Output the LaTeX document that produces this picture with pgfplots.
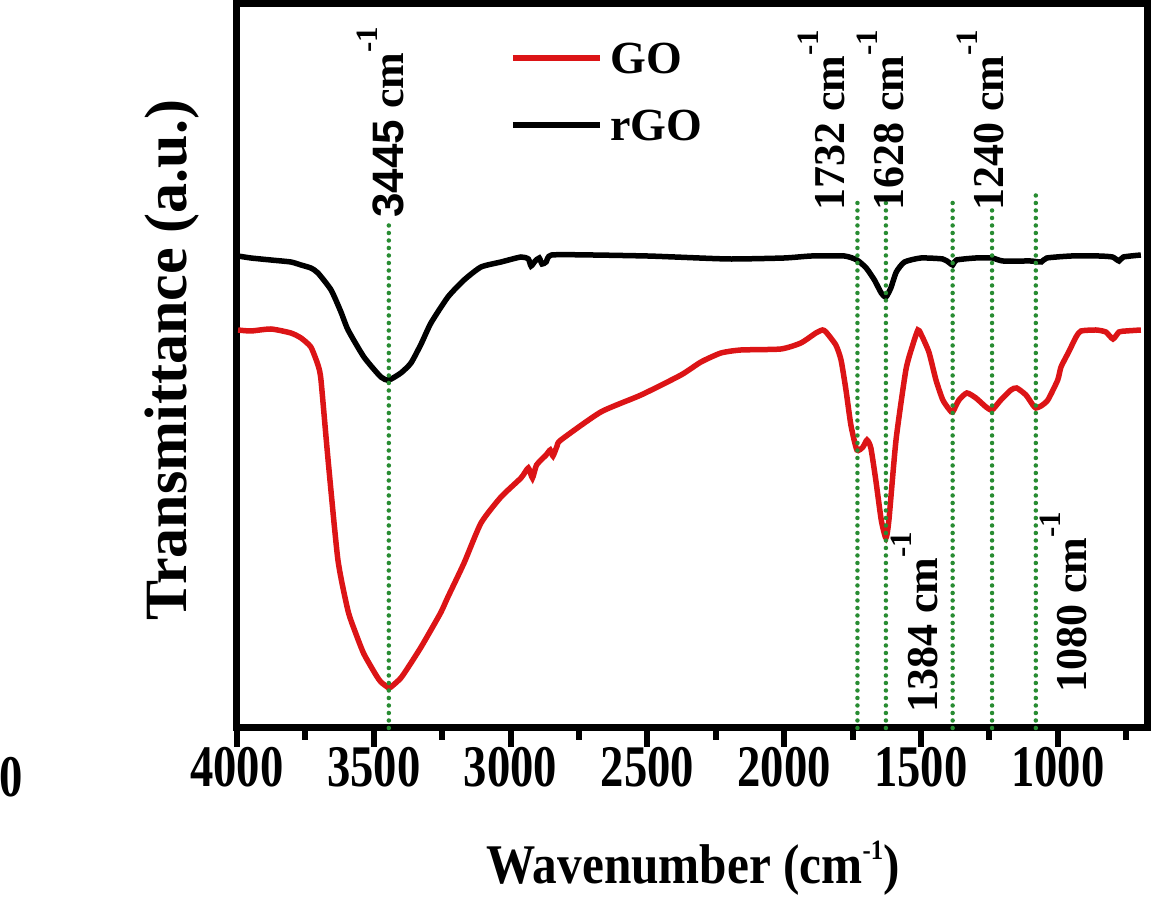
\documentclass[border=0pt]{standalone}
\usepackage{fontspec}
\setmainfont{Liberation Serif}
\newfontfamily\tickfont{Liberation Serif}[FakeStretch=0.79]
\newfontfamily\xlabfont{Liberation Serif}[FakeStretch=0.88]
\newfontfamily\sansdigits{Liberation Sans}
\usepackage{pgfplots}
\usepackage{pgfplotstable}
\pgfplotsset{compat=1.18}

% raised "-1" exponent: #1 = raise, #2 = size
\newcommand{\invexp}[2]{\raisebox{#1}{\fontsize{#2}{#2}\selectfont -1}}

\definecolor{goRed}{RGB}{220,20,22}
\definecolor{peakGreen}{RGB}{40,140,50}

% FTIR transmittance of GO (offset, arbitrary units)
\pgfplotstableread{
wn T
3996 392
3949 391
3876 393
3803 389
3766 384
3730 375
3704 357
3693 342
3667 262
3631 162
3594 111
3565 88
3536 68
3492 47
3474 40
3445 34
3437 35
3401 44
3364 59
3327 75
3291 92
3254 110
3229 125
3170 159
3108 199
3035 225
2962 244
2935 254
2920 244
2905 257
2870 267
2855 272
2845 266
2830 276
2816 282
2670 310
2523 327
2377 347
2304 360
2231 369
2158 372
2012 373
1939 379
1884 389
1860 392
1847 390
1811 377
1792 362
1774 332
1756 297
1734 272
1712 275
1697 282
1683 274
1665 242
1645 202
1628 184
1617 202
1591 282
1555 352
1530 377
1511 392
1500 388
1471 370
1445 342
1420 322
1395 312
1384 310
1361 322
1332 329
1299 324
1262 315
1240 312
1208 322
1171 332
1150 334
1116 327
1091 317
1080 314
1061 316
1036 322
1000 342
988 355
960 370
933 385
915 391
860 392
824 390
798 383
776 390
751 391
696 392
}\goTable

% FTIR transmittance of rGO (offset, arbitrary units)
\pgfplotstableread{
wn T
3996 466
3949 464
3876 462
3803 460
3766 457
3730 454
3704 449
3656 432
3620 410
3594 392
3536 365
3474 345
3445 342
3401 349
3364 359
3327 378
3291 399
3229 425
3170 442
3108 455
3035 460
2962 465
2935 463
2925 456
2910 461
2895 464
2885 458
2870 460
2850 467
2700 467
2500 466
2400 465
2200 463
2000 464
1900 466
1780 466
1734 462
1700 454
1670 442
1645 429
1628 425
1610 434
1590 450
1560 460
1500 464
1420 463
1395 459
1384 457
1370 462
1300 464
1240 464
1200 461
1100 461
1060 460
1040 464
950 466
850 466
800 465
776 461
760 465
696 467
}\rgoTable

\tikzset{
  peaklab/.style={rotate=90, anchor=base west, inner sep=0pt,
    font=\bfseries\fontsize{44}{44}\selectfont},
  peakline/.style={peakGreen, line width=4.5pt, line cap=round,
    dash pattern=on 0pt off 7.5pt},
}

\begin{document}
\begin{tikzpicture}
\useasboundingbox (-237pt,-171pt) rectangle (915pt,728pt);
\clip (-237pt,-171pt) rectangle (915pt,728pt);
\begin{axis}[
  at={(0pt,0pt)}, anchor=south west,
  scale only axis, width=911pt, height=724pt,
  x dir=reverse, xmin=670, xmax=4000,
  ymin=-6, ymax=718,
  clip=false,
  axis line style={line width=7pt},
  xtick={1000,1500,2000,2500,3000,3500,4000},
  xticklabels={1000,1500,2000,2500,3000,3500,4000},
  minor xtick={750,1250,1750,2250,2750,3250,3750},
  ytick=\empty,
  xtick pos=left,
  tick align=outside,
  major tick length=19pt, minor tick length=12pt,
  every tick/.style={black, line width=6pt},
  xticklabel style={font=\tickfont\bfseries\fontsize{59}{60}\selectfont,
    anchor=north, inner sep=0pt},
  xlabel={Wavenumber (cm\invexp{0.42em}{28pt})},
  xlabel style={font=\xlabfont\bfseries\fontsize{56}{60}\selectfont,
    at={(axis description cs:0.5005,-0.1934)}, anchor=center},
  ylabel={Transmittance (a.u.)},
  ylabel style={font=\bfseries\fontsize{60}{60}\selectfont,
    at={(axis description cs:-0.0714,0.508)}, anchor=center, rotate=0},
  legend cell align=left,
  legend style={at={(axis description cs:0.2997,0.946)}, anchor=north west,
    draw=none, fill=none, inner sep=0pt, outer sep=0pt,
    row sep=37pt, column sep=8pt,
    font=\bfseries\fontsize{46}{46}\selectfont,
    nodes={inner sep=0pt, text height=30pt, text depth=0pt}},
  legend image code/.code={\draw[#1, line width=5.5pt] (0pt,0pt) -- (87pt,0pt);},
]
\addplot[goRed, line width=5.5pt, smooth, tension=0.35] table[x=wn, y=T] {\goTable};
\addlegendentry{GO}
\addplot[black, line width=5.5pt, smooth, tension=0.35] table[x=wn, y=T] {\rgoTable};
\addlegendentry{rGO}

% dotted markers at the assigned bands
\addplot[peakline, forget plot] coordinates {(3445,-6) (3445,497)};
\addplot[peakline, forget plot] coordinates {(1732,-6) (1732,524)};
\addplot[peakline, forget plot] coordinates {(1628,-6) (1628,524)};
\addplot[peakline, forget plot] coordinates {(1384,-6) (1384,524)};
\addplot[peakline, forget plot] coordinates {(1240,-6) (1240,512)};
\addplot[peakline, forget plot] coordinates {(1080,-6) (1080,532)};

\node[peaklab] at (axis cs:3390,504) {{\sansdigits 3445} cm\invexp{0.6em}{31pt}};
\node[peaklab] at (axis cs:1778,511) {1732 cm\invexp{0.6em}{31pt}};
\node[peaklab] at (axis cs:1562,511) {1628 cm\invexp{0.6em}{31pt}};
\node[peaklab] at (axis cs:1197,511) {1240 cm\invexp{0.6em}{31pt}};
\node[peaklab] at (axis cs:1438,9) {1384 cm\invexp{0.6em}{31pt}};
\node[peaklab] at (axis cs:893,29) {1080 cm\invexp{0.6em}{31pt}};
\end{axis}
\node[font=\tickfont\bfseries\fontsize{59}{60}\selectfont, anchor=north, inner sep=0pt]
  at (-226pt,-29pt) {0};
\end{tikzpicture}
\end{document}
